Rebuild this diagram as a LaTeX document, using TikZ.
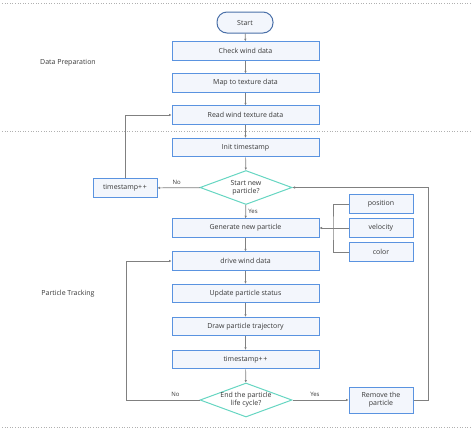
\documentclass[tikz,border=0pt]{standalone}
\usepackage{fontspec}
\setmainfont{Open Sans}
\usetikzlibrary{shapes.geometric,arrows.meta}
\definecolor{boxline}{HTML}{5A93E0}
\definecolor{boxfill}{HTML}{F3F6FC}
\definecolor{startline}{HTML}{4A70A8}
\definecolor{diaml}{HTML}{66D6C2}
\definecolor{conn}{HTML}{808080}
\definecolor{sep}{HTML}{B0B0B0}
\tikzset{
  every node/.style={font=\fontsize{7}{8}\selectfont, text=black!78},
  procbox/.style={draw=boxline, fill=boxfill, line width=1pt, minimum width=147pt, minimum height=18.5pt, inner sep=0pt},
  sidebox/.style={draw=boxline, fill=boxfill, line width=1pt, minimum width=64pt, minimum height=18.5pt, inner sep=0pt, align=center},
  startbox/.style={draw=startline, fill=boxfill, line width=1pt, rounded corners=10pt, minimum width=56pt, minimum height=21pt, inner sep=0pt},
  decide/.style={diamond, draw=diaml, fill=white, line width=1pt, minimum width=92pt, minimum height=34pt, inner sep=0pt, align=center, aspect=2.7},
  arr/.style={draw=conn, line width=0.7pt, -{Latex[length=2.5pt,width=2.5pt]}},
  sepline/.style={draw=sep, dotted, line width=0.6pt},
  lbl/.style={font=\fontsize{6}{7}\selectfont}
}
\begin{document}
\begin{tikzpicture}[x=1pt,y=-1pt]
\useasboundingbox (0,0) rectangle (474,432);
\draw[sepline] (2,3) -- (472,3);
\draw[sepline] (2,131) -- (472,131);
\draw[sepline] (2,427) -- (472,427);
\node[font=\fontsize{7}{8}\selectfont] (dp) at (68,63) {Data Preparation};
\node[font=\fontsize{7}{8}\selectfont] (pt) at (68,294) {Particle Tracking};
\node[startbox] (start) at (245,22.5) {Start};
\node[procbox] (check) at (245.5,51) {Check wind data};
\node[procbox] (map) at (245.5,83) {Map to texture data};
\node[procbox] (read) at (245.5,115) {Read wind texture data};
\node[procbox] (init) at (245.5,147.5) {Init timestamp};
\node[decide] (snp) at (246,187.5) {Start new\\particle?};
\node[sidebox] (tsl) at (125,188) {timestamp+\kern0.8pt+};
\node[procbox] (gen) at (245.5,228) {Generate new particle};
\node[sidebox] (pos) at (381,204) {position};
\node[sidebox] (vel) at (381,228) {velocity};
\node[sidebox] (col) at (381,252) {color};
\node[procbox] (drive) at (245.5,261) {drive wind data};
\node[procbox] (upd) at (245.5,293.5) {Update particle status};
\node[procbox] (draw) at (245.5,326.5) {Draw particle trajectory};
\node[procbox] (ts) at (245.5,359.5) {timestamp+\kern0.8pt+};
\node[decide] (end) at (246,400) {End the particle\\life cycle?};
\node[sidebox, minimum height=26pt] (rem) at (381,400) {Remove the\\particle};
\coordinate (vx) at (333,228);
\draw[arr] (start) -- (check);
\draw[arr] (check) -- (map);
\draw[arr] (map) -- (read);
\draw[arr] (read) -- (init);
\draw[arr] (init) -- (snp);
\draw[arr] (snp) -- node[lbl, above, pos=0.55] {No} (tsl);
\draw[arr] (tsl.north) |- (read.west);
\draw[arr] (snp) -- node[lbl, right, pos=0.45, xshift=-1pt] {Yes} (gen);
\draw[draw=conn, line width=0.7pt] (pos.west) -| (vx) |- (col.west);
\draw[draw=conn, line width=0.7pt] (vel.west) -- (vx);
\draw[arr] (vx) -- (gen.east);
\draw[arr] (gen) -- (drive);
\draw[arr] (drive) -- (upd);
\draw[arr] (upd) -- (draw);
\draw[arr] (draw) -- (ts);
\draw[arr] (ts) -- (end);
\draw[arr] (end.west) -- node[lbl, above, pos=0.33] {No} ++(-73,0) |- (drive.west);
\draw[arr] (end) -- node[lbl, above, pos=0.4] {Yes} (rem);
\draw[arr] (rem.east) -- ++(15,0) |- (snp.east);
\end{tikzpicture}
\end{document}
